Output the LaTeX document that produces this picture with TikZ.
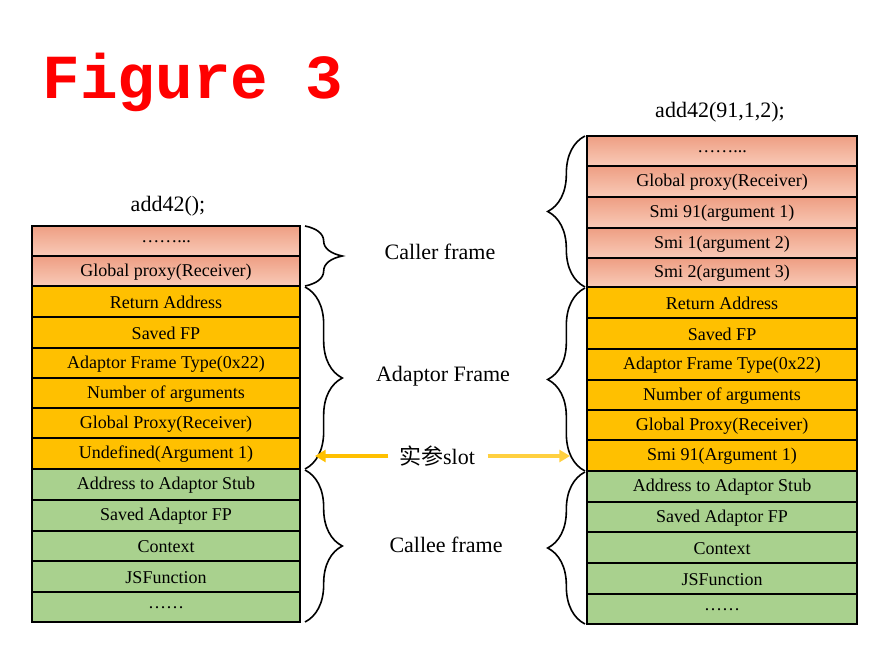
\documentclass[tikz,border=0pt]{standalone}
\usepackage{fontspec}
\setmainfont{Liberation Serif}
\newfontfamily\cjk{Noto Sans CJK SC}
\newfontfamily\monob{Liberation Mono}
\usetikzlibrary{decorations.pathreplacing,arrows.meta}
\definecolor{sal1}{HTML}{F9CBB8}
\definecolor{sal2}{HTML}{EE9E83}
\definecolor{org}{HTML}{FFC000}
\definecolor{grn}{HTML}{A9D18E}
\definecolor{arr}{HTML}{FFC000}
\tikzset{
 callerc/.style={top color=sal2, bottom color=sal1, shading angle=0},
 adc/.style={fill=org},
 cec/.style={fill=grn},
 cellt/.style={font=\fontsize{13.5}{15}\selectfont},
 br/.style={decorate, decoration={brace, amplitude=28pt, aspect=0.5}, line width=1.2pt},
 lab/.style={font=\fontsize{16.5}{19}\selectfont},
}
\begin{document}
\begin{tikzpicture}[x=0.75pt,y=-0.75pt]
\useasboundingbox[fill=white] (0,0) rectangle (892,649);
\node[text=red, font=\monob\bfseries\fontsize{47}{50}\selectfont, anchor=west] (title) at (38,82) {Figure 3};
\node[font=\fontsize{16.5}{18}\selectfont] (l0) at (168,206) {add42();};
\node[font=\fontsize{16.5}{18}\selectfont] (r0) at (720,112) {add42(91,1,2);};
% left stack
\foreach \n/\s/\a/\b/\t in {
 L1/callerc/226/256/{……...},
 L2/callerc/256/286/{Global proxy(Receiver)},
 L3/adc/286/317/{Return Address},
 L4/adc/317/348/{Saved FP},
 L5/adc/348/378/{Adaptor Frame Type(0x22)},
 L6/adc/378/408/{Number of arguments},
 L7/adc/408/438/{Global Proxy(Receiver)},
 L8/adc/438/469/{Undefined(Argument 1)},
 L9/cec/469/500/{Address to Adaptor Stub},
 L10/cec/500/531/{Saved Adaptor FP},
 L11/cec/531/561/{Context},
 L12/cec/561/592/{JSFunction},
 L13/cec/592/622/{……}}{
 \path[\s, draw=black, line width=0.8pt] (32,\a) rectangle (300,\b);
 \node[cellt] (\n) at (166,{(\a+\b)/2+1}) {\t};
}
% right stack
\foreach \n/\s/\a/\b/\t in {
 R1/callerc/136/166/{……...},
 R2/callerc/166/197/{Global proxy(Receiver)},
 R3/callerc/197/228/{Smi 91(argument 1)},
 R4/callerc/228/258/{Smi 1(argument 2)},
 R5/callerc/258/287/{Smi 2(argument 3)},
 R6/adc/287/318/{Return Address},
 R7/adc/318/349/{Saved FP},
 R8/adc/349/380/{Adaptor Frame Type(0x22)},
 R9/adc/380/410/{Number of arguments},
 R10/adc/410/440/{Global Proxy(Receiver)},
 R11/adc/440/471/{Smi 91(Argument 1)},
 R12/cec/471/502/{Address to Adaptor Stub},
 R13/cec/502/532/{Saved Adaptor FP},
 R14/cec/532/563/{Context},
 R15/cec/563/594/{JSFunction},
 R16/cec/594/624/{……}}{
 \path[\s, draw=black, line width=0.8pt] (587,\a) rectangle (857,\b);
 \node[cellt] (\n) at (722,{(\a+\b)/2+1}) {\t};
}
% braces left
\draw[br] (305,226) -- (305,286);
\draw[br] (305,287) -- (305,469);
\draw[br] (305,470) -- (305,622);
% braces right
\draw[br] (585,287) -- (585,136);
\draw[br] (585,471) -- (585,288);
\draw[br] (585,624) -- (585,472);
\node[lab] (caller) at (440,252) {Caller frame};
\node[lab] (adapt) at (443,376) {Adaptor Frame};
\node[lab] (callee) at (446,545) {Callee frame};
\node[lab] (slot) at (437,456) {{\cjk 实参}slot};
\draw[arr, line width=2.5pt, -{Triangle[length=8pt,width=9pt]}] (slot.west) ++(-6,0) coordinate (s1) -- (315,456) coordinate (s2);
\draw[arr!75, line width=2.5pt, -{Triangle[length=8pt,width=9pt]}] (slot.east) ++(8,0) coordinate (s3) -- (570,456) coordinate (s4);
\end{tikzpicture}
\end{document}
